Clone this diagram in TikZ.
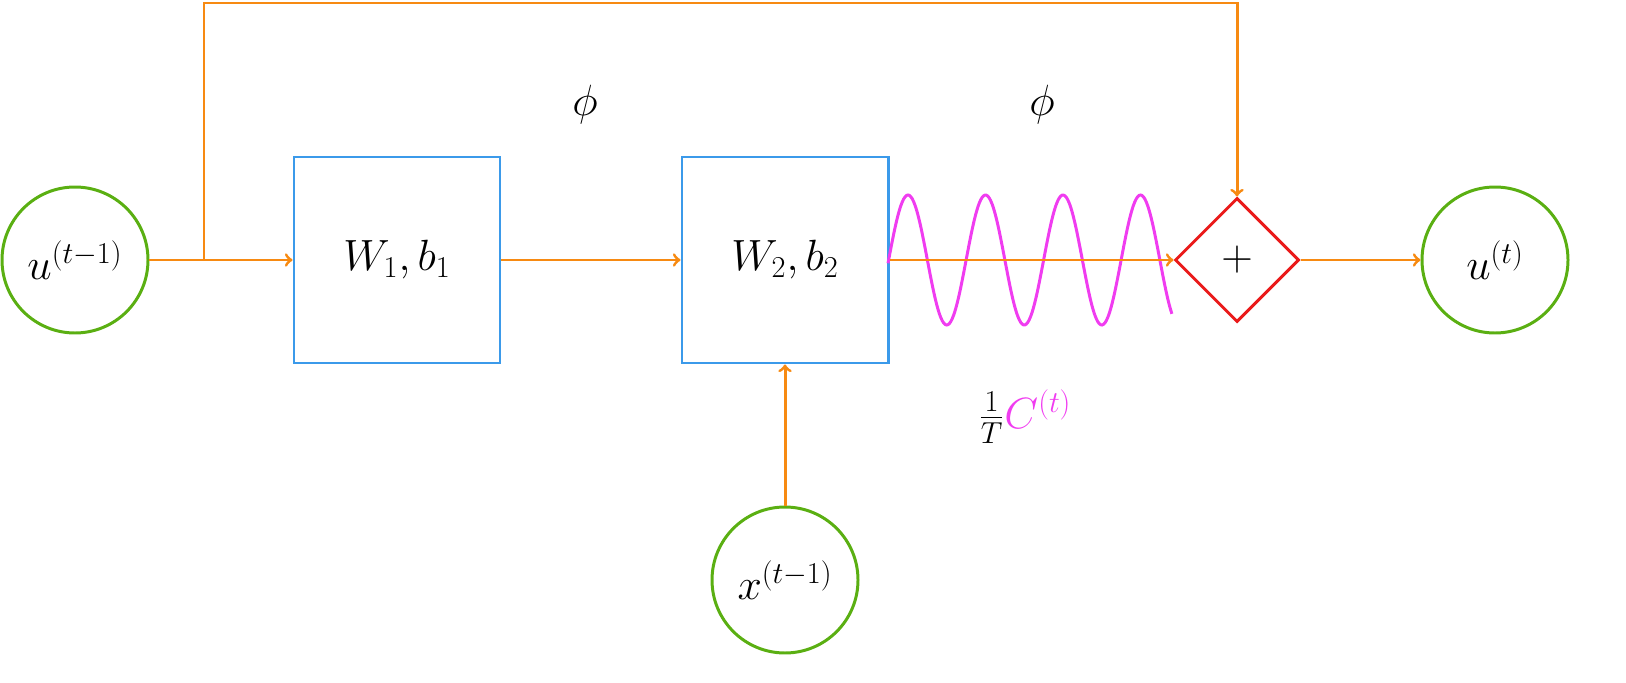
\documentclass[tikz,border=0pt]{standalone}
\usetikzlibrary{shapes.geometric}
\definecolor{grn}{HTML}{5AAF12}
\definecolor{blu}{HTML}{3B9AEA}
\definecolor{org}{HTML}{F78A12}
\definecolor{rd}{HTML}{EA1A1A}
\definecolor{mag}{HTML}{F03CF0}
\begin{document}
\begin{tikzpicture}[
  cgreen/.style={circle,draw=grn,line width=1.7pt,minimum size=2.92cm,inner sep=0pt,font=\fontsize{23}{27}\selectfont},
  box/.style={rectangle,draw=blu,line width=1.7pt,minimum size=4.12cm,inner sep=0pt,font=\fontsize{27}{32}\selectfont},
  con/.style={draw=org,line width=1.7pt,->,>=to},
  lbl/.style={font=\fontsize{24}{28}\selectfont}]
\node[cgreen] (u0) at (1.5,8.44) {$u^{(t-1)}$};
\node[box] (b1) at (7.94,8.44) {$W_1,b_1$};
\node[box] (b2) at (15.7,8.44) {$W_2,b_2$};
\node[diamond,draw=rd,line width=1.7pt,minimum size=2.48cm,inner sep=0pt,font=\fontsize{24}{28}\selectfont] (p) at (24.74,8.44) {$+$};
\node[cgreen] (u1) at (29.9,8.44) {$u^{(t)}$};
\node[cgreen] (x) at (15.7,2.04) {$x^{(t-1)}$};
\node[lbl] (f1) at (11.7,11.54) {$\phi$};
\node[lbl] (f2) at (20.84,11.54) {$\phi$};
\node[lbl,anchor=west] (c) at (19.45,5.3) {$\frac{1}{T}\textcolor{mag}{C^{(t)}}$};
\coordinate (j) at (4.08,8.44);
\coordinate (tl) at (4.08,13.58);
\coordinate (tr) at (24.74,13.58);
\draw[draw=mag,line width=1.7pt,domain=17.76:23.44,samples=200,smooth] plot (\x,{8.44+1.3*sin(360*(\x-18.16)/1.55+90)});
\draw[con] (u0) -- (b1);
\draw[con] (b1) -- (b2);
\draw[con] (b2) -- (p);
\draw[con] (p) -- (u1);
\draw[con] (x) -- (b2);
\draw[con] (j) -- (tl) -- (tr) -- (p);
\pgfresetboundingbox
\path[use as bounding box] (0,0) rectangle (32.52,13.64);
\end{tikzpicture}
\end{document}
